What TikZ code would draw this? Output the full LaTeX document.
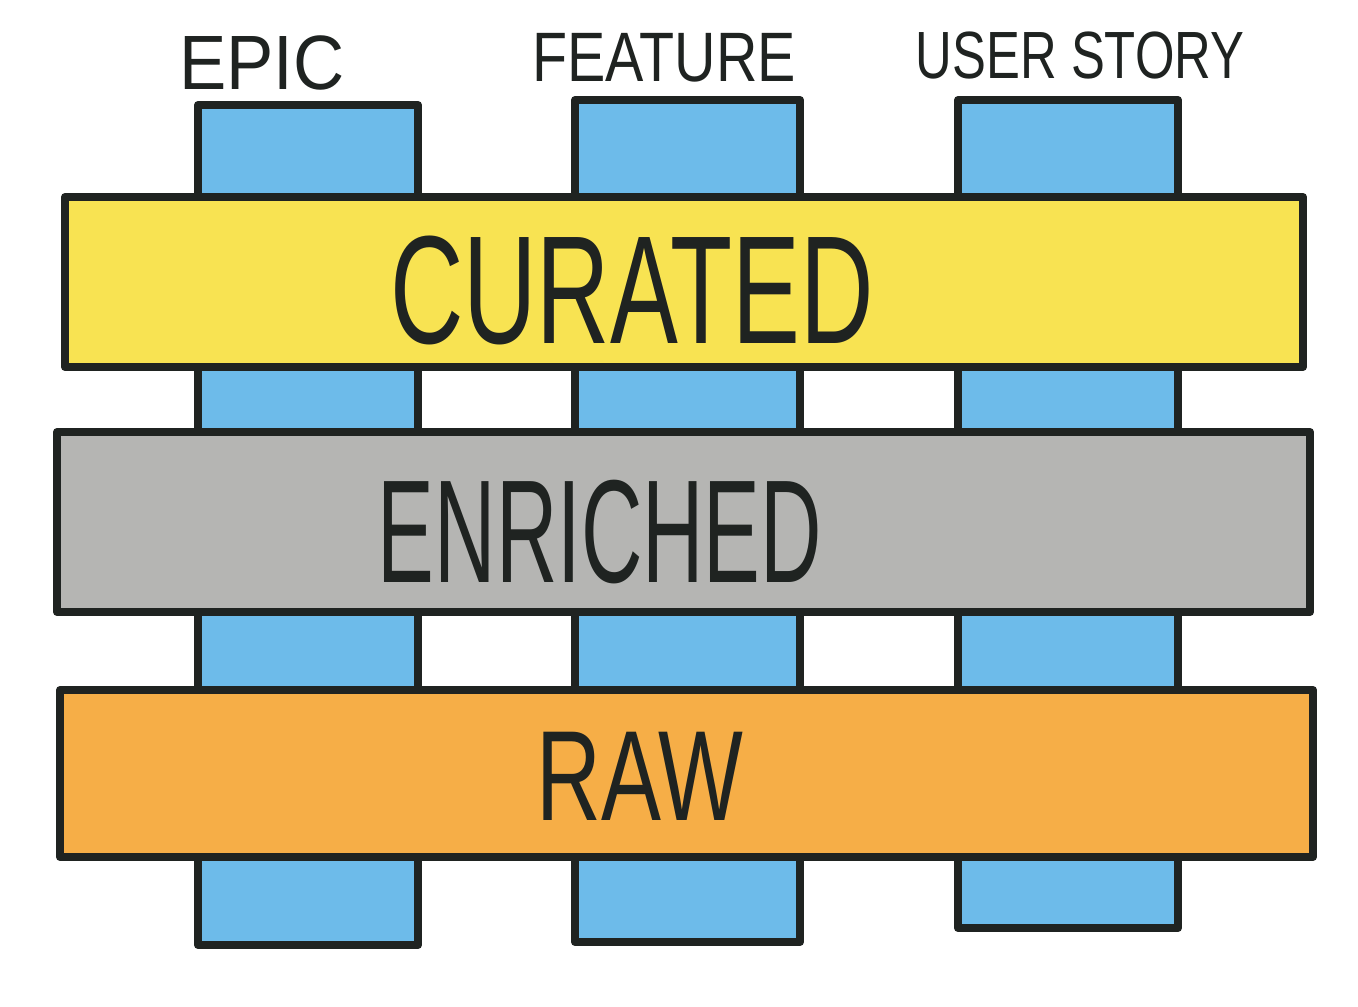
\documentclass[tikz,border=0pt]{standalone}
\usepackage{fontspec}
\setmainfont{Liberation Sans}
\definecolor{ink}{HTML}{1F2321}
\definecolor{colblue}{HTML}{6DBBEA}
\definecolor{curyellow}{HTML}{F8E352}
\definecolor{enrgray}{HTML}{B5B5B3}
\definecolor{raworange}{HTML}{F6AE47}
\begin{document}
\begin{tikzpicture}[x=0.01cm,y=-0.01cm,line join=round,
  col/.style={fill=colblue,draw=ink,line width=2.3pt},
  band/.style={draw=ink,line width=2.3pt},
  head/.style={text=ink,inner sep=0pt},
  big/.style={text=ink,inner sep=0pt}]
\useasboundingbox (0,0) rectangle (1358,1007);
\fill[white] (0,0) rectangle (1358,1007);
% columns
\draw[col] (198,105) rectangle (418,945);
\draw[col] (575,100) rectangle (800,942);
\draw[col] (958,100) rectangle (1178,928);
% layers
\draw[band,fill=curyellow] (65,197) rectangle (1303,367);
\draw[band,fill=enrgray] (57,432) rectangle (1310,612);
\draw[band,fill=raworange] (60,690) rectangle (1313,857);
% column headings
\node[head,font=\fontsize{21.9}{22}\selectfont,xscale=0.92] (epic) at (262,63) {EPIC};
\node[head,font=\fontsize{19.9}{20}\selectfont,xscale=0.82] (feature) at (664,58) {FEATURE};
\node[head,font=\fontsize{19}{19}\selectfont,xscale=0.76] (story) at (1080,56) {USER STORY};
% layer labels
\node[big,font=\fontsize{43.8}{44}\selectfont,xscale=0.66] (curated) at (632,290) {CURATED};
\node[big,font=\fontsize{41.7}{42}\selectfont,xscale=0.58] (enriched) at (600,532) {ENRICHED};
\node[big,font=\fontsize{36.5}{37}\selectfont,xscale=0.70] (raw) at (640,776) {RAW};
\end{tikzpicture}
\end{document}
